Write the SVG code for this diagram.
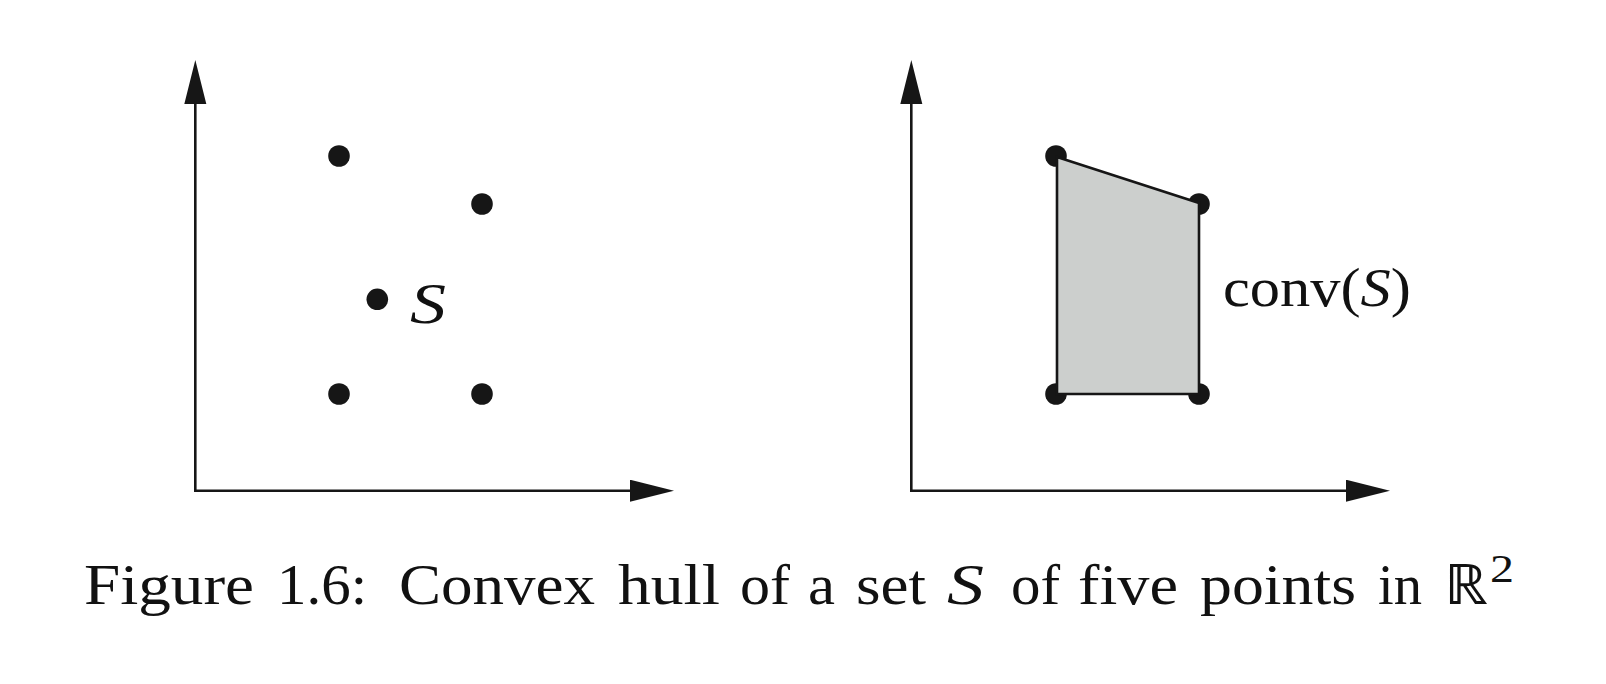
<svg xmlns="http://www.w3.org/2000/svg" width="1606" height="684" viewBox="0 0 1606 684">
  <style>
    .axis { stroke: #161616; stroke-width: 2.6; fill: none; }
    .dot { fill: #161616; }
    .hull { fill: #cccfcd; stroke: #161616; stroke-width: 2.6; stroke-linejoin: miter; }
    .lbl { font-family: "Liberation Serif", "Times New Roman", serif; fill: #111; }
    .it { font-style: italic; }
    .cap { font-size: 57px; }
  </style>
  <defs>
    <marker id="arrow" markerUnits="userSpaceOnUse" markerWidth="46" markerHeight="24" refX="0" refY="11" orient="auto" viewBox="0 0 46 24">
      <path d="M0,0 L44,11 L0,22 z" fill="#161616"/>
    </marker>
  </defs>
  <rect width="1606" height="684" fill="#ffffff"/>

  <g id="connectors">
    <line class="axis" x1="195.3" y1="491.9" x2="195.3" y2="104" marker-end="url(#arrow)"/>
    <line class="axis" x1="194" y1="490.7" x2="630" y2="490.7" marker-end="url(#arrow)"/>
    <line class="axis" x1="911.3" y1="491.9" x2="911.3" y2="104" marker-end="url(#arrow)"/>
    <line class="axis" x1="910" y1="490.7" x2="1346" y2="490.7" marker-end="url(#arrow)"/>
  </g>

  <g id="left-panel">
    <circle class="dot" cx="339" cy="156" r="10.8"/>
    <circle class="dot" cx="482" cy="204" r="10.8"/>
    <circle class="dot" cx="377.3" cy="299.3" r="10.8"/>
    <circle class="dot" cx="339" cy="394" r="10.8"/>
    <circle class="dot" cx="482" cy="394" r="10.8"/>
    <text class="lbl it" x="410" y="323" font-size="56" textLength="36" lengthAdjust="spacingAndGlyphs">S</text>
  </g>

  <g id="right-panel">
    <circle class="dot" cx="1056" cy="156" r="10.8"/>
    <circle class="dot" cx="1199" cy="204" r="10.8"/>
    <circle class="dot" cx="1056" cy="394" r="10.8"/>
    <circle class="dot" cx="1199" cy="394" r="10.8"/>
    <polygon class="hull" points="1057,157 1199,203 1199,394 1057,394"/>
    <text class="lbl" x="1223" y="306" font-size="55" textLength="188" lengthAdjust="spacingAndGlyphs">conv(<tspan class="it">S</tspan>)</text>
  </g>

  <g id="caption">
    <text class="lbl cap" x="84" y="604" textLength="170" lengthAdjust="spacingAndGlyphs">Figure</text>
    <text class="lbl cap" x="277" y="604" textLength="90" lengthAdjust="spacingAndGlyphs">1.6:</text>
    <text class="lbl cap" x="399" y="604" textLength="196" lengthAdjust="spacingAndGlyphs">Convex</text>
    <text class="lbl cap" x="618" y="604" textLength="102" lengthAdjust="spacingAndGlyphs">hull</text>
    <text class="lbl cap" x="740" y="604" textLength="50" lengthAdjust="spacingAndGlyphs">of</text>
    <text class="lbl cap" x="808" y="604" textLength="27" lengthAdjust="spacingAndGlyphs">a</text>
    <text class="lbl cap" x="856" y="604" textLength="70" lengthAdjust="spacingAndGlyphs">set</text>
    <text class="lbl cap it" x="947" y="604" textLength="37" lengthAdjust="spacingAndGlyphs">S</text>
    <text class="lbl cap" x="1011" y="604" textLength="49" lengthAdjust="spacingAndGlyphs">of</text>
    <text class="lbl cap" x="1078" y="604" textLength="100" lengthAdjust="spacingAndGlyphs">five</text>
    <text class="lbl cap" x="1200" y="604" textLength="156" lengthAdjust="spacingAndGlyphs">points</text>
    <text class="lbl cap" x="1378" y="604" textLength="44" lengthAdjust="spacingAndGlyphs">in</text>
    <text class="lbl" x="1444" y="604" font-size="56" font-family="DejaVu Serif, serif" textLength="44" lengthAdjust="spacingAndGlyphs">ℝ</text>
    <text class="lbl" x="1490" y="582" font-size="40" textLength="24" lengthAdjust="spacingAndGlyphs">2</text>
  </g>
</svg>
